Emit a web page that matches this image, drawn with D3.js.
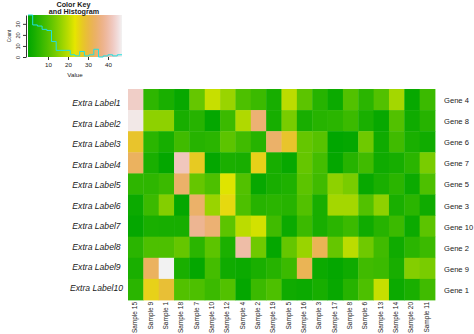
<!DOCTYPE html>
<html>
<head>
<meta charset="utf-8">
<script src="https://cdn.jsdelivr.net/npm/d3@7"></script>
<style>
  html, body { margin: 0; padding: 0; background: #fff; }
  svg { display: block; font-family: "Liberation Sans", Arial, sans-serif; }
</style>
</head>
<body>
<svg id="chart" width="474" height="334"></svg>
<script>
// Column (sample) order after clustering
const samples = ["Sample 15","Sample 9","Sample 1","Sample 18","Sample 7","Sample 10","Sample 12","Sample 4","Sample 2","Sample 19",
                 "Sample 5","Sample 16","Sample 3","Sample 17","Sample 8","Sample 6","Sample 13","Sample 14","Sample 20","Sample 11"];
// Row (gene) order, top to bottom
const genes = ["Gene 4","Gene 8","Gene 6","Gene 7","Gene 5","Gene 3","Gene 10","Gene 2","Gene 9","Gene 1"];
// Extra annotation labels on the left side
const extraLabels = ["Extra Label1","Extra Label2","Extra Label3","Extra Label4","Extra Label5",
                     "Extra Label6","Extra Label7","Extra Label8","Extra Label9","Extra Label10"];

// Expression values, one array per gene, in sample order
const gene4  = [43, 6, 3.3, 1, 12, 21, 17, 9.5, 7.5, 3.1, 20, 11, 5, 1.5, 10, 5.5, 10, 18, 1, 7.5];
const gene8  = [46, 16, 16, 3.2, 5, 0.5, 7.5, 19, 35, 3, 14, 3.2, 5, 5.5, 7.5, 3.3, 1, 10, 2, 5];
const gene6  = [28, 5.5, 3, 8, 5, 5.5, 11, 8, 5, 34, 28, 12, 10.5, 0, 0.5, 13, 2, 8, 3.4, 2.2];
const gene7  = [33, 3.3, 0.5, 42, 27, 0.5, 3.5, 3.2, 26, 3.1, 1, 12, 8.5, 0.5, 5, 8, 2, 3, 5.5, 14];
const gene5  = [6, 6, 7.5, 34, 12, 9.5, 23, 10, 1, 3.2, 4, 11, 8, 16, 14, 1, 3.4, 5.5, 1.5, 9.5];
const gene3  = [1.5, 7.5, 15, 0.5, 34, 17, 25, 9.5, 5, 5.5, 5, 10, 3.2, 18, 18, 10, 16, 3.4, 5.5, 2];
const gene10 = [0.5, 3.3, 3.1, 3.1, 38, 35, 11, 20, 22, 8, 1.5, 7.5, 3.2, 5.5, 7.5, 2, 5, 7.5, 1.5, 11];
const gene2  = [5.5, 9.5, 9.5, 12, 5.5, 11, 3.6, 40, 13, 0.5, 12, 17, 32, 12, 20, 13, 8, 2, 5.5, 7.5];
const gene9  = [3.3, 33, 47, 3.4, 0.5, 8.5, 2, 1.5, 3.3, 5, 7.5, 32, 1.5, 0.5, 2, 8, 7.5, 3.2, 15, 14];
const gene1  = [5.5, 26, 29, 10, 9.5, 7.5, 10, 0.5, 7.5, 9.5, 2, 1.5, 3.1, 1, 5, 9.5, 21, 1.5, 3.3, 8];

const rowsValues = [gene4, gene8, gene6, gene7, gene5, gene3, gene10, gene2, gene9, gene1];

// Color key tick labels
const keyValueTicks = [10, 20, 30, 40];
const keyCountTicks = [0, 10, 20, 30];
const histBinCount = 20;

// ---- terrain colour ramp (green -> yellow -> tan -> near white), HSV based
function hsv2rgb(h, s, v) {
  const c = v * s, hp = h / 60, x = c * (1 - Math.abs(hp % 2 - 1)), m = v - c;
  let r = 0, g = 0, b = 0;
  if (hp < 1) { r = c; g = x; }
  else if (hp < 2) { r = x; g = c; }
  else if (hp < 3) { g = c; b = x; }
  else if (hp < 4) { g = x; b = c; }
  else if (hp < 5) { r = x; b = c; }
  else { r = c; b = x; }
  return d3.rgb(Math.round((r + m) * 255), Math.round((g + m) * 255), Math.round((b + m) * 255)).formatHex();
}
function terrain(t) {
  t = Math.max(0, Math.min(1, t));
  if (t <= 0.5) {
    const u = t / 0.5;
    return hsv2rgb((4 / 12 - (2 / 12) * u) * 360, 1, 0.65 + 0.25 * u);
  }
  const u = (t - 0.5) / 0.5;
  return hsv2rgb((2 / 12) * (1 - u) * 360, 1 - u, 0.9 + 0.05 * u);
}

const cells = [];
genes.forEach((g, i) => samples.forEach((s, j) => cells.push({ gene: g, sample: s, value: rowsValues[i][j] })));
const allValues = cells.map(d => d.value);
const vMin = d3.min(allValues), vMax = d3.max(allValues);
const toUnit = d3.scaleLinear().domain([vMin, vMax]).range([0, 1]);
const color = v => terrain(toUnit(v));

const svg = d3.select("#chart");
const textColor = "#1a1a1a";

// ---- heatmap
const x = d3.scaleBand().domain(samples).range([128, 435]).padding(0);
const y = d3.scaleBand().domain(genes).range([89, 300]).padding(0);

svg.append("g").selectAll("rect").data(cells).join("rect")
  .attr("x", d => x(d.sample))
  .attr("y", d => y(d.gene))
  .attr("width", x.bandwidth() + 0.4)
  .attr("height", y.bandwidth() + 0.4)
  .attr("fill", d => color(d.value));

// right-hand gene labels
svg.append("g").selectAll("text").data(genes).join("text")
  .attr("x", 444)
  .attr("y", d => y(d) + y.bandwidth() / 2 + 1)
  .attr("dominant-baseline", "central")
  .attr("font-size", 7.6)
  .attr("fill", textColor)
  .text(d => d);

// left-hand extra labels
const yExtra = d3.scalePoint().domain(extraLabels).range([103, 288]);
svg.append("g").selectAll("text").data(extraLabels).join("text")
  .attr("x", 96.5)
  .attr("y", d => yExtra(d))
  .attr("text-anchor", "middle")
  .attr("dominant-baseline", "central")
  .attr("font-size", 8.6)
  .attr("font-style", "italic")
  .attr("fill", textColor)
  .text(d => d);

// bottom sample labels, rotated
svg.append("g").selectAll("text").data(samples).join("text")
  .attr("transform", d => `translate(${x(d) + x.bandwidth() / 2 - 1},302) rotate(-90)`)
  .attr("text-anchor", "end")
  .attr("dominant-baseline", "central")
  .attr("font-size", 6.5)
  .attr("fill", textColor)
  .text(d => d);

// ---- colour key with histogram
const kx = d3.scaleLinear().domain([vMin, vMax]).range([28, 122]);
const thresholds = d3.range(1, histBinCount).map(i => vMin + i * (vMax - vMin) / histBinCount);
const bins = d3.bin().domain([vMin, vMax]).thresholds(thresholds)(allValues);
const maxCount = d3.max(bins, b => b.length);
const ky = d3.scaleLinear().domain([0, maxCount]).range([57, 15]);

const defs = svg.append("defs");
const grad = defs.append("linearGradient").attr("id", "keyGrad").attr("x1", "0%").attr("x2", "100%");
d3.range(0, 1.0001, 0.02).forEach(t => grad.append("stop").attr("offset", `${t * 100}%`).attr("stop-color", terrain(t)));

svg.append("rect")
  .attr("x", kx(vMin)).attr("y", ky(maxCount))
  .attr("width", kx(vMax) - kx(vMin)).attr("height", ky(0) - ky(maxCount))
  .attr("fill", "url(#keyGrad)");

const histPts = bins.map(b => [b.x0, b.length]);
histPts.push([bins[bins.length - 1].x1, bins[bins.length - 1].length]);
svg.append("path")
  .datum(histPts)
  .attr("fill", "none")
  .attr("stroke", "#22e0e0")
  .attr("stroke-width", 1)
  .attr("d", d3.line().x(d => kx(d[0])).y(d => ky(d[1])).curve(d3.curveStepAfter));

// key x axis
const kxAxis = svg.append("g").attr("transform", `translate(0,${ky(0)})`)
  .call(d3.axisBottom(kx).tickValues(keyValueTicks).tickSize(3).tickPadding(2.5).tickSizeOuter(0));
kxAxis.select(".domain").remove();
kxAxis.selectAll("line").attr("stroke", "#333");
kxAxis.selectAll("text").attr("font-size", 6.2).attr("fill", textColor).attr("font-family", null);

// key y axis
const kyAxis = svg.append("g").attr("transform", `translate(${kx(vMin) - 2},0)`)
  .call(d3.axisLeft(ky).tickValues(keyCountTicks).tickSize(3).tickSizeOuter(0));
kyAxis.select(".domain").attr("stroke", "#333");
kyAxis.selectAll("line").attr("stroke", "#333");
kyAxis.selectAll("text")
  .attr("font-size", 5.6).attr("fill", textColor).attr("font-family", null)
  .attr("text-anchor", "middle")
  .attr("dominant-baseline", "auto")
  .attr("x", null).attr("dy", null)
  .attr("transform", "translate(-6,0) rotate(-90)");

svg.append("text")
  .attr("transform", `translate(11,${(ky(0) + ky(maxCount)) / 2}) rotate(-90)`)
  .attr("text-anchor", "middle")
  .attr("font-size", 4.6)
  .attr("fill", textColor)
  .text("Count");

svg.append("text")
  .attr("x", (kx(vMin) + kx(vMax)) / 2).attr("y", 77)
  .attr("text-anchor", "middle")
  .attr("font-size", 6.2)
  .attr("fill", textColor)
  .text("Value");

svg.append("text")
  .attr("x", 73.5).attr("y", 6.5)
  .attr("text-anchor", "middle")
  .attr("font-size", 7.2).attr("font-weight", "bold")
  .attr("fill", textColor)
  .text("Color Key");
svg.append("text")
  .attr("x", 74).attr("y", 14)
  .attr("text-anchor", "middle")
  .attr("font-size", 7.2).attr("font-weight", "bold")
  .attr("fill", textColor)
  .text("and Histogram");
</script>
</body>
</html>
